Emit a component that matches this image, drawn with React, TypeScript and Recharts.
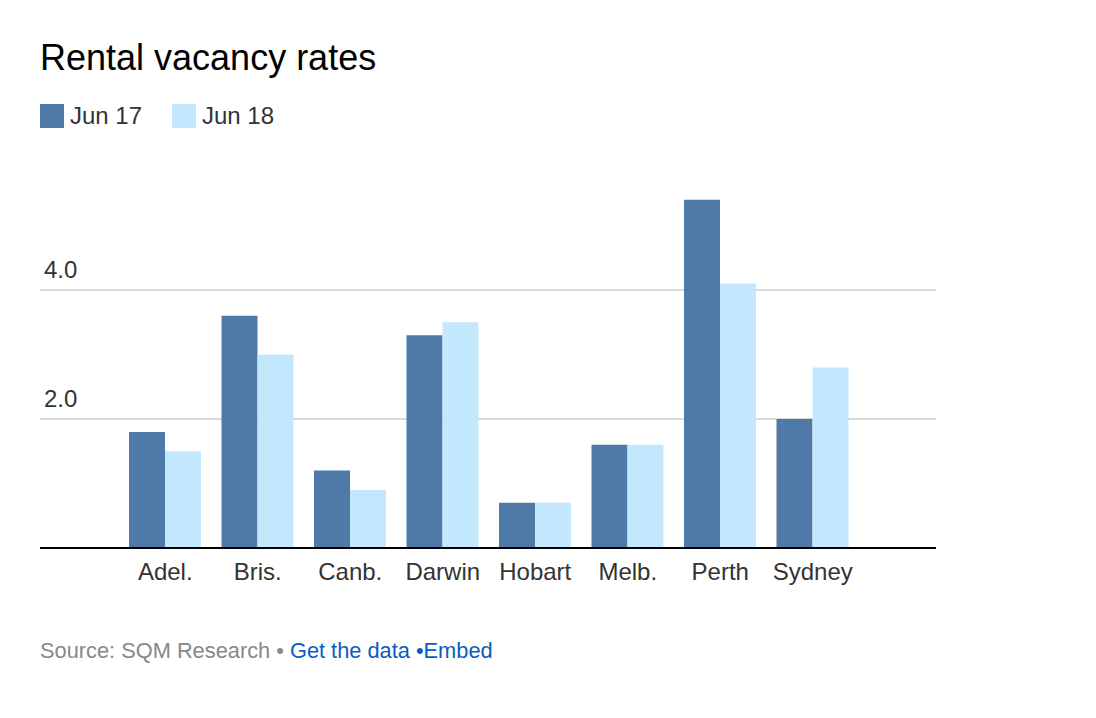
import React from 'react';
import { BarChart, Bar, XAxis, YAxis, CartesianGrid } from 'recharts';

const cities = ['Adel.', 'Bris.', 'Canb.', 'Darwin', 'Hobart', 'Melb.', 'Perth', 'Sydney'];
const jun17 = [1.8, 3.6, 1.2, 3.3, 0.7, 1.6, 5.4, 2.0];
const jun18 = [1.5, 3.0, 0.9, 3.5, 0.7, 1.6, 4.1, 2.8];
const yTicks = [2, 4];

const series = [
  { key: 'jun17', name: 'Jun 17', color: '#4f7aa8' },
  { key: 'jun18', name: 'Jun 18', color: '#c3e7fd' },
];

const data = cities.map((city, i) => ({ city, jun17: jun17[i], jun18: jun18[i] }));

const FONT = '"Liberation Sans", Arial, Helvetica, sans-serif';

const YTick = ({ y, payload }: any) => (
  <text x={36} y={y - 12} fontSize={24} fill="#333" fontFamily={FONT} textAnchor="start">
    {Number(payload.value).toFixed(1)}
  </text>
);

const XTick = ({ x, y, payload }: any) => (
  <text x={x} y={y + 32} textAnchor="middle" fontSize={24} fill="#333" fontFamily={FONT}>
    {payload.value}
  </text>
);

export default function App() {
  return (
    <div style={{ position: 'relative', width: 1080, height: 702, fontFamily: FONT }}>
      <div
        style={{
          position: 'absolute',
          left: 32,
          top: 32,
          fontSize: 36,
          lineHeight: '36px',
          color: '#000',
          whiteSpace: 'nowrap',
        }}
      >
        Rental vacancy rates
      </div>

      {series.map((s, i) => (
        <div
          key={s.key}
          style={{
            position: 'absolute',
            left: 32 + i * 132,
            top: 96,
            height: 24,
            display: 'flex',
            alignItems: 'center',
            fontSize: 24,
            lineHeight: '24px',
            color: '#333',
            whiteSpace: 'nowrap',
          }}
        >
          <span style={{ width: 24, height: 24, background: s.color, marginRight: 6, display: 'inline-block' }} />
          <span>{s.name}</span>
        </div>
      ))}

      <div style={{ position: 'absolute', left: 0, top: 0 }}>
        <BarChart
          width={1080}
          height={620}
          data={data}
          margin={{ top: 153, right: 152, bottom: 40, left: 31 }}
          barGap={0}
          barSize={36}
        >
          <CartesianGrid vertical={false} horizontalValues={yTicks} stroke="#d9d9d9" strokeWidth={2} />
          <XAxis
            dataKey="city"
            height={40}
            padding={{ left: 79, right: 77 }}
            axisLine={{ stroke: '#000', strokeWidth: 2 }}
            tickLine={false}
            tickSize={0}
            tickMargin={0}
            tick={<XTick />}
            interval={0}
          />
          <YAxis
            width={1}
            domain={[0, 6]}
            ticks={yTicks}
            interval={0}
            axisLine={false}
            tickLine={false}
            tick={<YTick />}
          />
          {series.map((s) => (
            <Bar key={s.key} dataKey={s.key} name={s.name} fill={s.color} isAnimationActive={false} />
          ))}
        </BarChart>
      </div>

      <div
        style={{
          position: 'absolute',
          left: 32,
          top: 632,
          fontSize: 21.8,
          lineHeight: '22px',
          whiteSpace: 'nowrap',
        }}
      >
        <span style={{ color: '#888' }}>Source: SQM Research • </span>
        <span style={{ color: '#0b5cc0' }}>Get the data •Embed</span>
      </div>
    </div>
  );
}
